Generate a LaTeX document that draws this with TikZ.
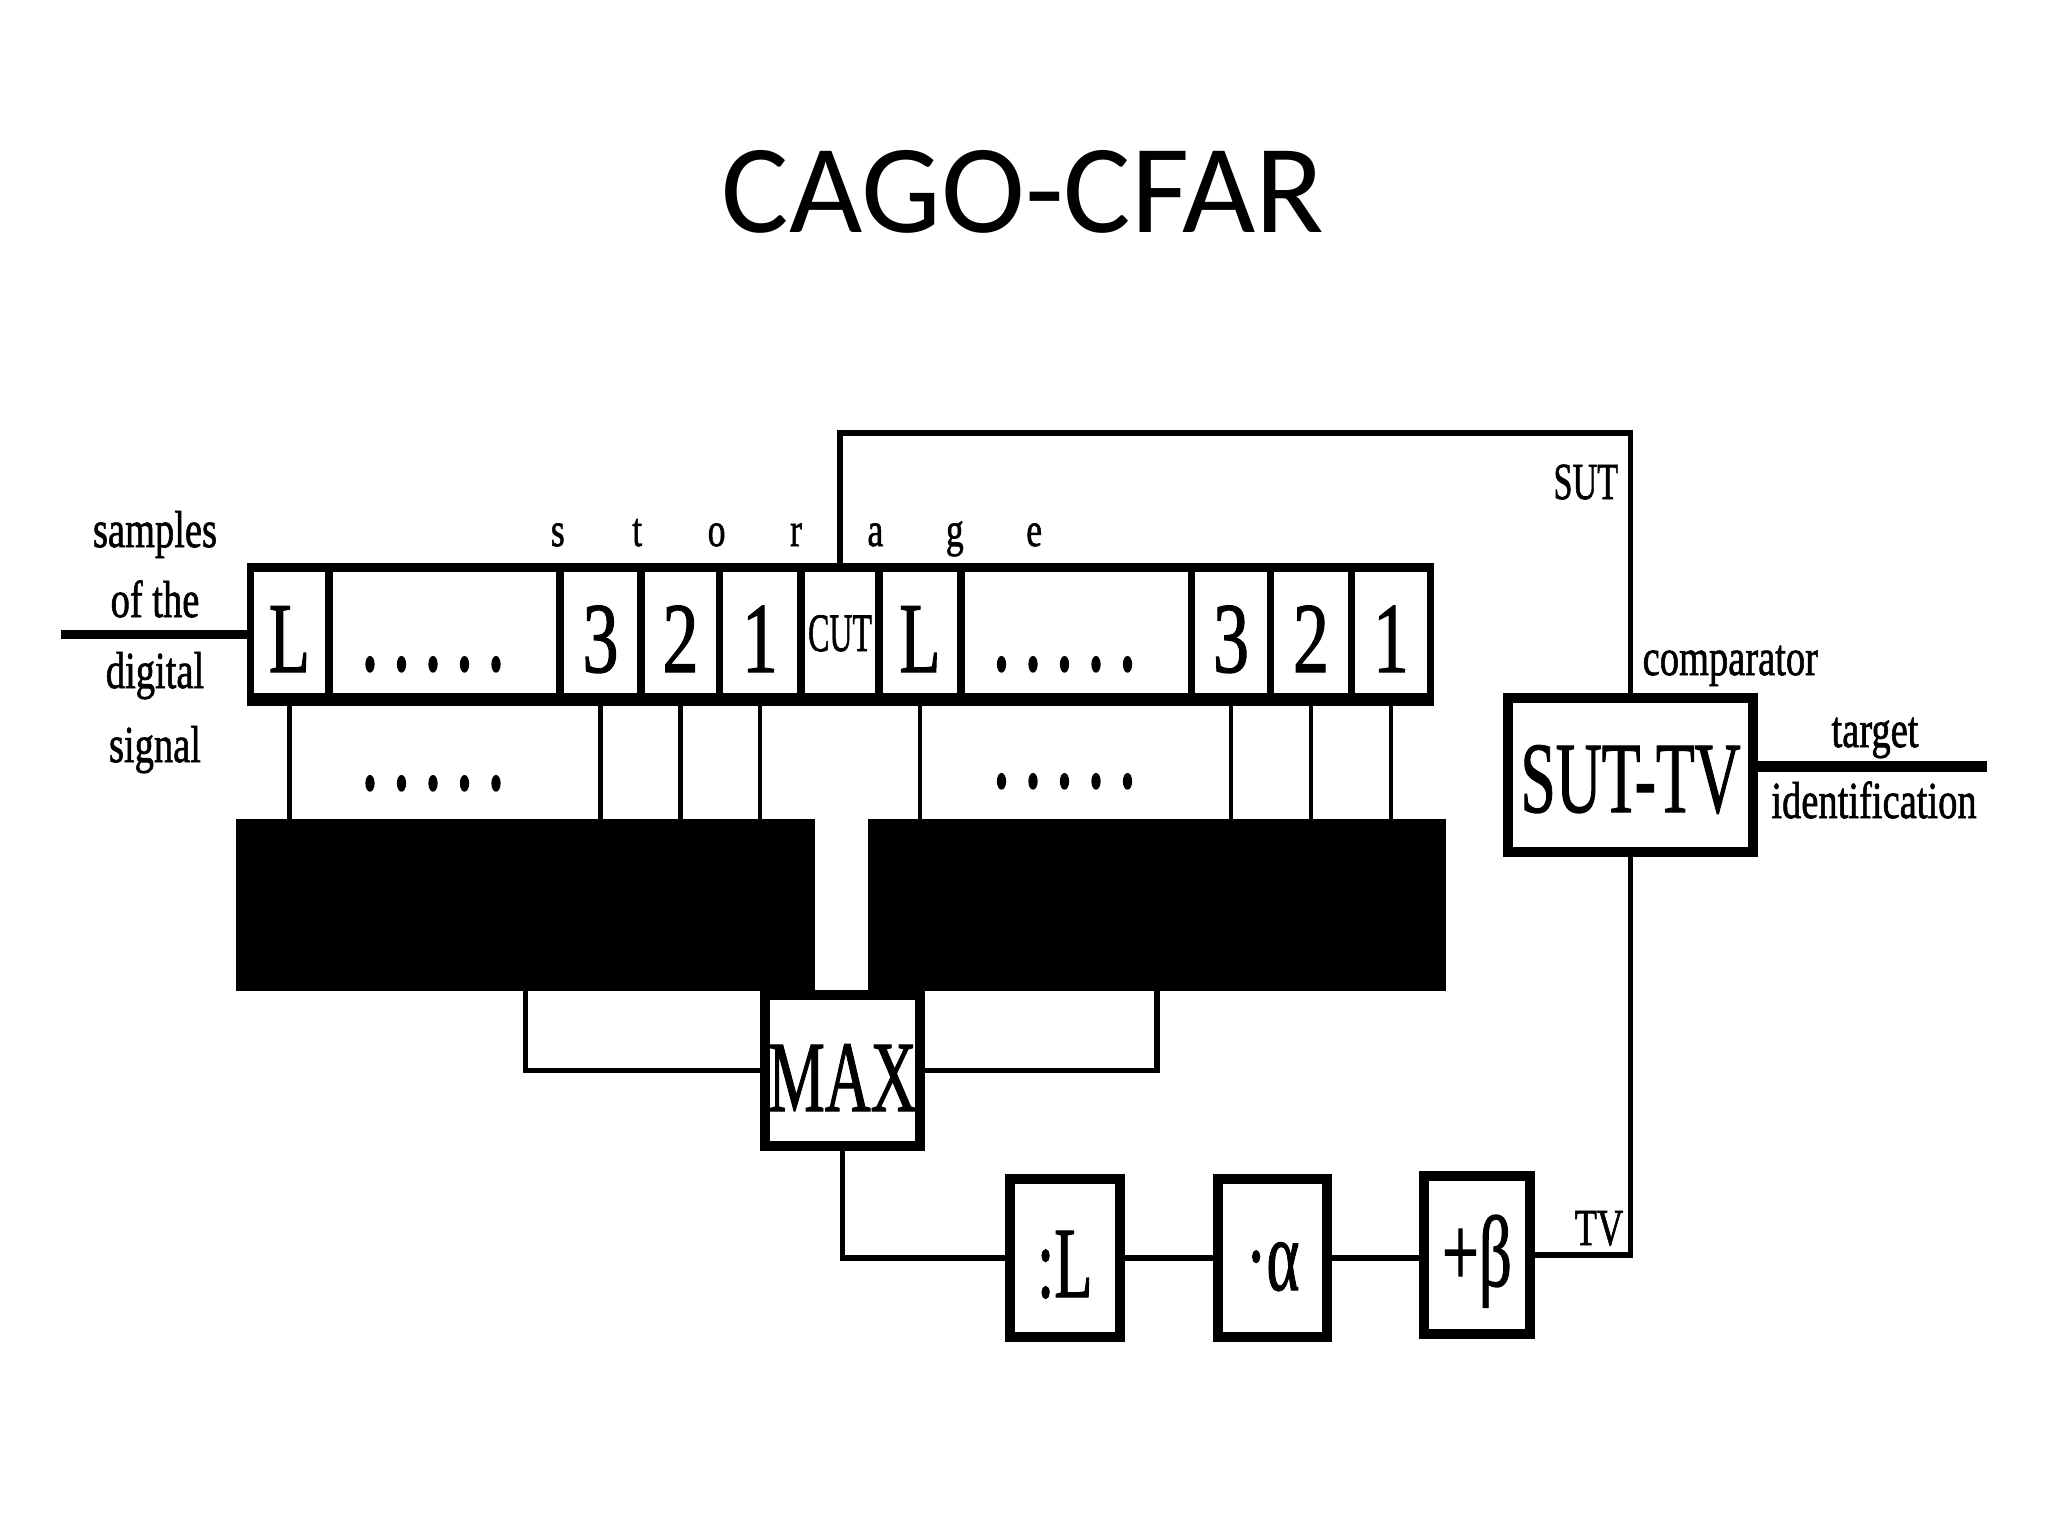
\documentclass[tikz,border=0pt]{standalone}
\usepackage{fontspec}
\usepackage{graphicx}
\setmainfont{Liberation Serif}[RawFeature={embolden=1.4}]
\newfontfamily\titlefont{Carlito}
\newcommand\sqz[3]{\scalebox{#1}[1]{\fontsize{#2}{#2}\selectfont #3}}
\newcommand\onedot{\makebox[3.15mm]{\sqz{0.55}{36pt}{.}}}
\newcommand\dotrow{\onedot\onedot\onedot\onedot\onedot}
\newcommand\stl[1]{\makebox[7.94mm]{\sqz{0.74}{13.7pt}{#1}}}
\begin{document}
\begin{tikzpicture}[x=0.1mm,y=-0.1mm,
  cell/.style={fill=white, inner sep=0pt, outer sep=0pt, minimum height=12.1mm, text height=7.9mm, text depth=0mm},
  blk/.style={fill=black, inner sep=0pt, outer sep=0pt, minimum height=17.2mm},
  opbox/.style={draw, line width=1mm, fill=white, inner sep=0pt, text depth=0mm},
  conn/.style={line width=0.45mm},
  bus/.style={line width=0.55mm},
  lbl/.style={inner sep=0pt},
]
\fill[white] (0,0) rectangle (2048,1536);
\useasboundingbox (0,0) rectangle (2048,1536);

% title
\node[lbl, anchor=base, font=\titlefont\fontsize{36pt}{36pt}\selectfont] (title) at (1023,232) {CAGO-CFAR};

% input labels
\node[lbl, anchor=base] (in1) at (155,547) {\sqz{0.74}{14.8pt}{samples}};
\node[lbl, anchor=base] (in2) at (155,617) {\sqz{0.74}{14.8pt}{of the}};
\node[lbl, anchor=base] (in3) at (155,688) {\sqz{0.74}{14.8pt}{digital}};
\node[lbl, anchor=base] (in4) at (155,762) {\sqz{0.74}{14.8pt}{signal}};

% storage label
\node[lbl, anchor=base] (stor) at (796,546) {\stl{s}\stl{t}\stl{o}\stl{r}\stl{a}\stl{g}\stl{e}};

% register
\node[fill=black, inner sep=0pt, outer sep=0pt, minimum width=118.7mm, minimum height=14.3mm] (reg) at (840.5,634.5) {};
\node[cell, minimum width=7.1mm] (cL1) at (289.5,632.5) {\sqz{0.67}{28.5pt}{L}};
\node[cell, minimum width=22.3mm] (cD1) at (444.5,632.5) {};
\node[cell, minimum width=7.3mm] (c3a) at (600.5,632.5) {\sqz{0.72}{28.5pt}{3}};
\node[cell, minimum width=7.1mm] (c2a) at (680.5,632.5) {\sqz{0.72}{28.5pt}{2}};
\node[cell, minimum width=7.4mm] (c1a) at (760,632.5) {\sqz{0.72}{28.5pt}{1}};
\node[cell, minimum width=7.0mm, text height=3.7mm] (cCUT) at (840,632.5) {\sqz{0.59}{15.4pt}{CUT}};
\node[cell, minimum width=7.4mm] (cL2) at (920,632.5) {\sqz{0.67}{28.5pt}{L}};
\node[cell, minimum width=22.3mm] (cD2) at (1076.5,632.5) {};
\node[cell, minimum width=7.2mm] (c3b) at (1231,632.5) {\sqz{0.72}{28.5pt}{3}};
\node[cell, minimum width=7.4mm] (c2b) at (1311,632.5) {\sqz{0.72}{28.5pt}{2}};
\node[cell, minimum width=7.2mm] (c1b) at (1391,632.5) {\sqz{0.72}{28.5pt}{1}};

% dots
\node[lbl, anchor=base] (dA) at (433,670) {\dotrow};
\node[lbl, anchor=base] (dC) at (1064.5,670) {\dotrow};
\node[lbl, anchor=base] (dB) at (433,789) {\dotrow};
\node[lbl, anchor=base] (dD) at (1064.5,787) {\dotrow};

% blocks
\node[blk, minimum width=57.9mm] (blkL) at (525.5,905) {};
\node[blk, minimum width=57.8mm] (blkR) at (1157,905) {};

% taps
\foreach \c in {cL1,c3a,c2a,c1a} \draw[conn] (\c.south) -- (\c.south |- blkL.north);
\foreach \c in {cL2,c3b,c2b,c1b} \draw[conn] (\c.south) -- (\c.south |- blkR.north);

% operator boxes
\node[opbox, minimum width=15.5mm, minimum height=15.1mm, text height=8.1mm] (max) at (842.5,1070.5) {\sqz{0.63}{28.7pt}{MAX}};
\node[opbox, minimum width=10.95mm, minimum height=15.8mm, text height=7.8mm] (divL) at (1064.75,1258) {\sqz{0.62}{28.7pt}{:L}};
\node[opbox, minimum width=10.9mm, minimum height=15.8mm, text height=6.4mm] (alpha) at (1272.5,1258) {\sqz{0.62}{28.7pt}{·α}};
\node[opbox, minimum width=10.6mm, minimum height=15.8mm, text height=6.2mm] (beta) at (1477,1255) {\sqz{0.645}{28.7pt}{+β}};
\node[opbox, minimum width=24.5mm, minimum height=15.4mm, text height=7.4mm] (sut) at (1630.5,775) {\sqz{0.63}{28.7pt}{SUT-TV}};

% labels
\node[lbl, anchor=base east] (lSUT) at (1619,499) {\sqz{0.66}{14.8pt}{SUT}};
\node[lbl, anchor=base west] (lcomp) at (1642,675) {\sqz{0.74}{14.8pt}{comparator}};
\node[lbl, anchor=base] (ltarget) at (1875,747) {\sqz{0.74}{14.8pt}{target}};
\node[lbl, anchor=base] (lident) at (1874,818) {\sqz{0.74}{14.8pt}{identification}};
\node[lbl, anchor=base east] (lTV) at (1624,1245) {\sqz{0.7}{14.8pt}{TV}};

% connectors
\coordinate (inL) at (61,634);
\draw[line width=0.9mm] (inL) -- (inL -| reg.west);
\draw[bus] (blkL.south) |- (max.west);
\draw[bus] (blkR.south) |- (max.east);
\draw[bus] (max.south) |- (divL.west);
\draw[bus] (divL.east) -- (alpha.west);
\draw[bus] (alpha.east) -- (alpha.east -| beta.west);
\draw[bus] (beta.east) -| (sut.south);
\coordinate (topy) at (0,433);
\draw[bus] (cCUT.north) |- (sut.north |- topy) -- (sut.north);
\coordinate (outR) at (1987,766);
\draw[line width=1.1mm] (sut.east |- outR) -- (outR);
\end{tikzpicture}
\end{document}
